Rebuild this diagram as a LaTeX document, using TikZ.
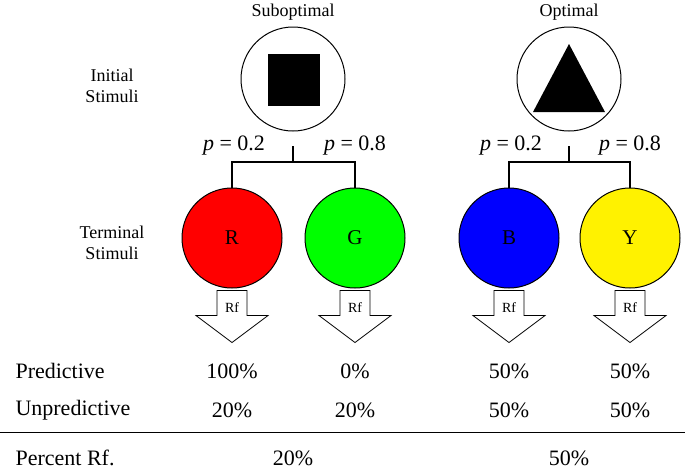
\documentclass[tikz,border=0pt]{standalone}
\usepackage{fontspec}
\setmainfont{Liberation Serif}
\begin{document}
\begin{tikzpicture}[x=1pt,y=-1pt,
  stim/.style={circle,draw,line width=1pt,minimum size=100pt,inner sep=0pt,font=\fontsize{21}{21}\selectfont},
  big/.style={circle,draw,line width=1pt,minimum size=104pt,inner sep=0pt},
  lab/.style={font=\fontsize{18}{21}\selectfont,align=center},
  row/.style={font=\fontsize{22}{22}\selectfont},
  pl/.style={font=\fontsize{22}{22}\selectfont},
  conn/.style={line width=1.5pt},
  rfarrow/.style={draw,fill=white,line width=0.8pt}]
\useasboundingbox (0,0) rectangle (685,469);
\node[lab] (sub) at (293,12) {Suboptimal};
\node[lab] (opt) at (569,12) {Optimal};
\node[big] (c1) at (293,79) {};
\node[big] (c2) at (569,79) {};
\fill (268,54) rectangle (320,106);
\fill (569,44) -- (605,112) -- (533,112) -- cycle;
\node[lab] (init) at (112,86) {Initial\\Stimuli};
\node[lab] (term) at (112,243) {Terminal\\Stimuli};
\node[stim,fill=red] (R) at (232,238) {R};
\node[stim,fill=green] (G) at (355,238) {G};
\node[stim,fill=blue] (B) at (509,238) {B};
\node[stim,fill=yellow] (Y) at (630,238) {Y};
\foreach \a/\l/\r/\x in {c1/R/G/293, c2/B/Y/569}{
  \coordinate (s\a) at (\x,146);
  \coordinate (m\a) at (\x,162);
  \draw[conn] (s\a) -- (m\a);
  \draw[conn] (\l.north) |- (m\a) -| (\r.north);
}
\node[pl] (p1) at (234,146) {\textit{p} = 0.2};
\node[pl] (p2) at (355,146) {\textit{p} = 0.8};
\node[pl] (p3) at (511,146) {\textit{p} = 0.2};
\node[pl] (p4) at (630,146) {\textit{p} = 0.8};
\foreach \n in {R,G,B,Y}{
  \path (\n.south) ++(0,2) coordinate (t\n);
  \draw[rfarrow] (t\n) ++(-15,0) -- ++(30,0) -- ++(0,25) -- ++(21,0) -- ++(-36,27) -- ++(-36,-27) -- ++(21,0) -- cycle;
  \node[font=\fontsize{14}{14}\selectfont] (rf\n) at ([yshift=-17pt]t\n) {Rf};
}
\node[row,anchor=west] (pred) at (12,371) {Predictive};
\node[row,anchor=west] (unp) at (12,410) {Unpredictive};
\node[row,anchor=west] (prf) at (12,458) {Percent Rf.};
\node[row] at (232,371) {100\%};
\node[row] at (355,371) {0\%};
\node[row] at (509,371) {50\%};
\node[row] at (630,371) {50\%};
\node[row] at (232,410) {20\%};
\node[row] at (355,410) {20\%};
\node[row] at (509,410) {50\%};
\node[row] at (630,410) {50\%};
\node[row] at (293,458) {20\%};
\node[row] at (569,458) {50\%};
\coordinate (l1) at (0,432); \coordinate (l2) at (685,432);
\draw[line width=0.8pt] (l1) -- (l2);
\end{tikzpicture}
\end{document}
